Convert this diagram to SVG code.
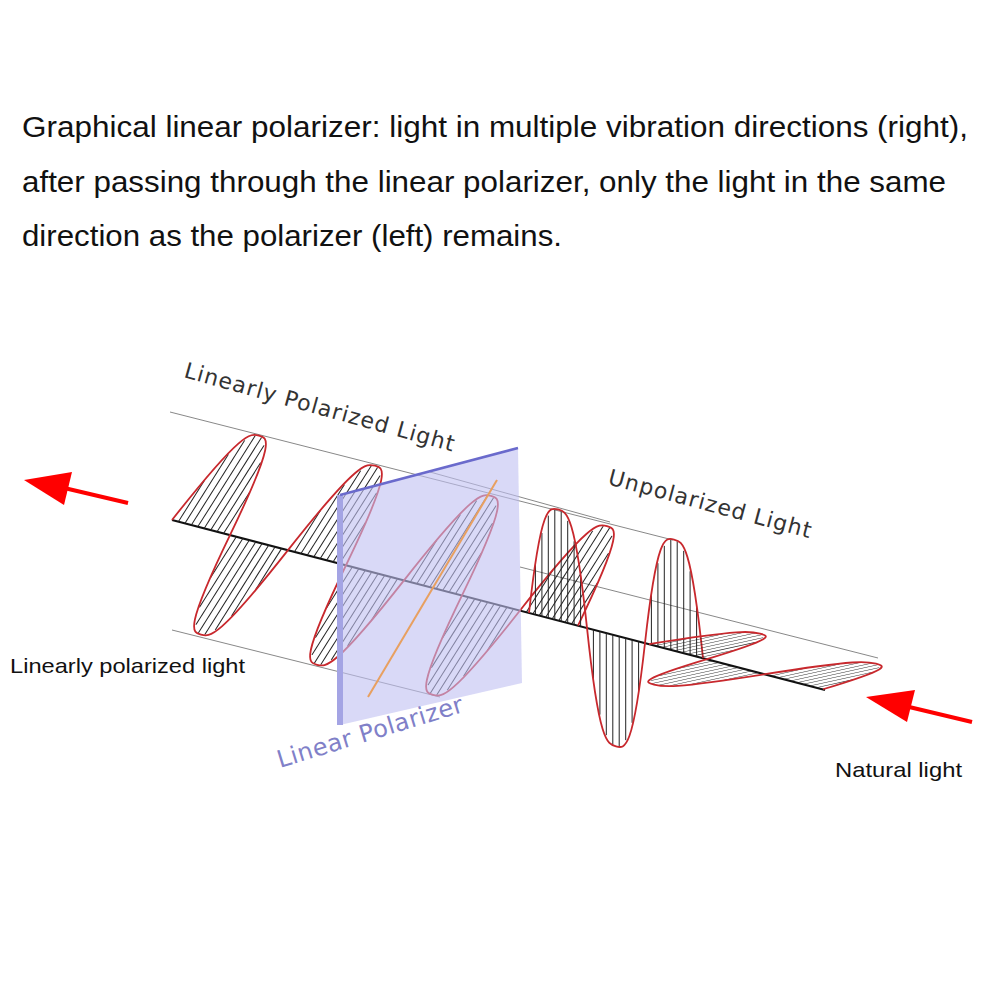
<svg xmlns="http://www.w3.org/2000/svg" xmlns:xlink="http://www.w3.org/1999/xlink" width="1000" height="1000" viewBox="0 0 1000 1000">
<style>
.t{font-family:"Liberation Sans",Arial,sans-serif;fill:#111}
.lab{font-family:"DejaVu Sans",sans-serif;fill:#333}
.g{stroke:#888;stroke-width:1;fill:none}
.w{fill:none;stroke:#c8282d;stroke-width:1.8;vector-effect:non-scaling-stroke}
.h{stroke:#222;stroke-width:1;vector-effect:non-scaling-stroke}
</style>
<defs>
<g id="lobe">
<g class="h">
<line x1="6.4" y1="0" x2="6.4" y2="0.45"/><line x1="12.9" y1="0" x2="12.9" y2="0.75"/><line x1="19.3" y1="0" x2="19.3" y2="0.92"/><line x1="25.8" y1="0" x2="25.8" y2="0.99"/><line x1="32.2" y1="0" x2="32.2" y2="0.99"/><line x1="38.7" y1="0" x2="38.7" y2="0.92"/><line x1="45.1" y1="0" x2="45.1" y2="0.75"/><line x1="51.6" y1="0" x2="51.6" y2="0.45"/>
</g>
<path class="w" d="M0,0 C12,1.0 20,1.0 29,1 C38,1.0 46,1.0 58,0"/>
</g>
</defs>
<text class="t" x="22" y="137" font-size="29" textLength="946" lengthAdjust="spacingAndGlyphs">Graphical linear polarizer: light in multiple vibration directions (right),</text>
<text class="t" x="22" y="192" font-size="29" textLength="924" lengthAdjust="spacingAndGlyphs">after passing through the linear polarizer, only the light in the same</text>
<text class="t" x="22" y="246" font-size="29" textLength="540" lengthAdjust="spacingAndGlyphs">direction as the polarizer (left) remains.</text>

<g id="guides">
<line class="g" x1="170" y1="412" x2="673" y2="540"/>
<line class="g" x1="430" y1="472" x2="610" y2="522"/>
<line class="g" x1="172" y1="630" x2="440" y2="697"/>
<line class="g" x1="520" y1="567" x2="878" y2="658"/>
</g>
<g id="axis"><line x1="172" y1="520" x2="825" y2="690" stroke="#111" stroke-width="2"/></g>

<g id="polarized-wave" transform="matrix(1,0.26,58,-92,172,520)">
<use xlink:href="#lobe" x="0"/>
<use xlink:href="#lobe" transform="translate(58,0) scale(1,-1)"/>
<use xlink:href="#lobe" x="116"/>
<use xlink:href="#lobe" transform="translate(174,0) scale(1,-1)"/>
<use xlink:href="#lobe" x="232"/>
<use xlink:href="#lobe" transform="translate(290,0) scale(1,-1)"/>
<use xlink:href="#lobe" x="348"/>
</g>
<g id="vertical-wave" transform="matrix(1,0.26,0,-111,172,520)">
<use xlink:href="#lobe" x="357"/>
<use xlink:href="#lobe" transform="translate(415,0) scale(1,-1)"/>
<use xlink:href="#lobe" x="473"/>
</g>
<g id="horizontal-wave" transform="matrix(1,0.26,82,-18,172,520)">
<use xlink:href="#lobe" x="477"/>
<use xlink:href="#lobe" transform="translate(535,0) scale(1,-1)"/>
<use xlink:href="#lobe" x="593"/>
</g>

<g id="polarizer">
<polygon points="340,495 518,448 522,683 340,725" fill="#c0c0f2" fill-opacity="0.6"/>
<line x1="340" y1="495" x2="340" y2="725" stroke="#a4a4e4" stroke-width="6"/>
<line x1="340" y1="495" x2="518" y2="448" stroke="#6a6acc" stroke-width="2.5"/>
<line x1="368" y1="697" x2="497" y2="480" stroke="#e8a060" stroke-width="2"/>
</g>

<g id="arrows">
<line x1="128" y1="503" x2="60" y2="487" stroke="#ff0000" stroke-width="4"/>
<polygon points="24,480 72,472 64,505" fill="#ff0000"/>
<line x1="972" y1="722" x2="905" y2="706" stroke="#ff0000" stroke-width="4"/>
<polygon points="866,697 915,690 907,722" fill="#ff0000"/>
</g>

<text class="lab" font-size="22" letter-spacing="1" transform="translate(183,377) rotate(15.5)">Linearly Polarized Light</text>
<text class="lab" font-size="22" letter-spacing="1" transform="translate(607,484) rotate(15)">Unpolarized Light</text>
<text font-family="DejaVu Sans,sans-serif" fill="#8080c8" font-size="24" letter-spacing="0.5" transform="translate(280,768) rotate(-17)">Linear Polarizer</text>
<text class="t" x="10" y="673" font-size="21" textLength="235" lengthAdjust="spacingAndGlyphs">Linearly polarized light</text>
<text class="t" x="835" y="777" font-size="21" textLength="127" lengthAdjust="spacingAndGlyphs">Natural light</text>
</svg>
